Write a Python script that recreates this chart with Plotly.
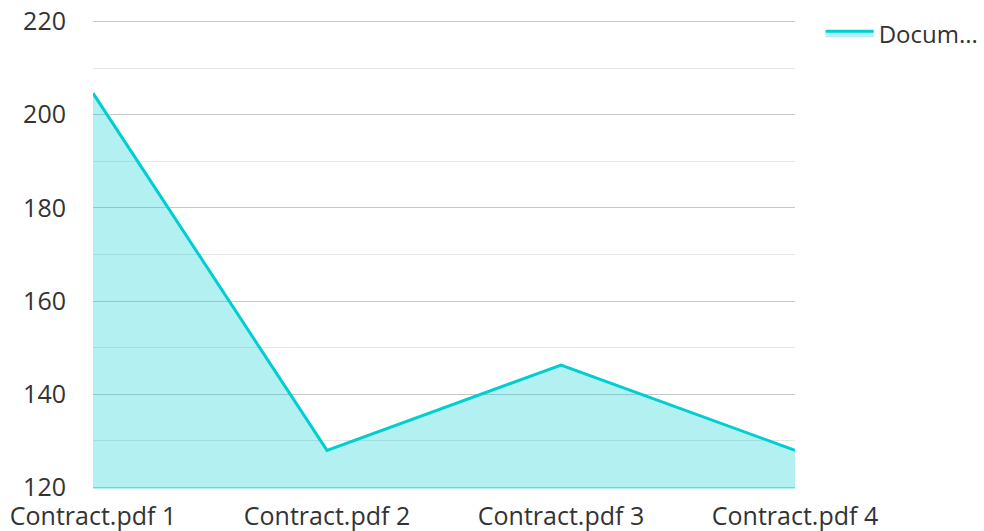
import plotly.graph_objects as go

categories = ["Contract.pdf 1", "Contract.pdf 2", "Contract.pdf 3", "Contract.pdf 4"]
values = [204.6, 128, 146.3, 128]
series_name = "Docum..."
y_ticks = [120, 140, 160, 180, 200, 220]

fig = go.Figure()
fig.add_trace(go.Scatter(
    x=list(range(len(categories))), y=values, name=series_name,
    mode="lines", fill="tozeroy",
    line=dict(color="#00CED1", width=3),
    fillcolor="rgba(0,206,209,0.3)",
    showlegend=True,
))

fig.update_layout(
    width=984, height=531,
    margin=dict(l=93, r=189, t=20, b=42),
    paper_bgcolor="white", plot_bgcolor="white",
    font=dict(family="Open Sans", size=25, color="#333333"),
    legend=dict(xref="container", yref="container", x=0.834, y=0.979,
                xanchor="left", yanchor="top",
                font=dict(size=24, color="#333333"), bgcolor="rgba(0,0,0,0)",
                itemwidth=48),
    xaxis=dict(
        tickmode="array", tickvals=list(range(len(categories))), ticktext=categories,
        range=[0, len(categories) - 1], showgrid=False, zeroline=False,
        showline=False, ticks="", ticklabelstandoff=10, automargin=False,
    ),
    yaxis=dict(
        range=[119.7, 220.3], tickmode="array", tickvals=y_ticks,
        showgrid=True, gridcolor="#c8c8c8", gridwidth=1, zeroline=False,
        showline=False, ticks="", ticklabelstandoff=26, automargin=False,
        minor=dict(dtick=10, showgrid=True, gridcolor="#e6e6e6", gridwidth=1),
    ),
)

fig.write_html("out.html", config={"displayModeBar": False},
               post_script="document.body.style.margin='0';")
